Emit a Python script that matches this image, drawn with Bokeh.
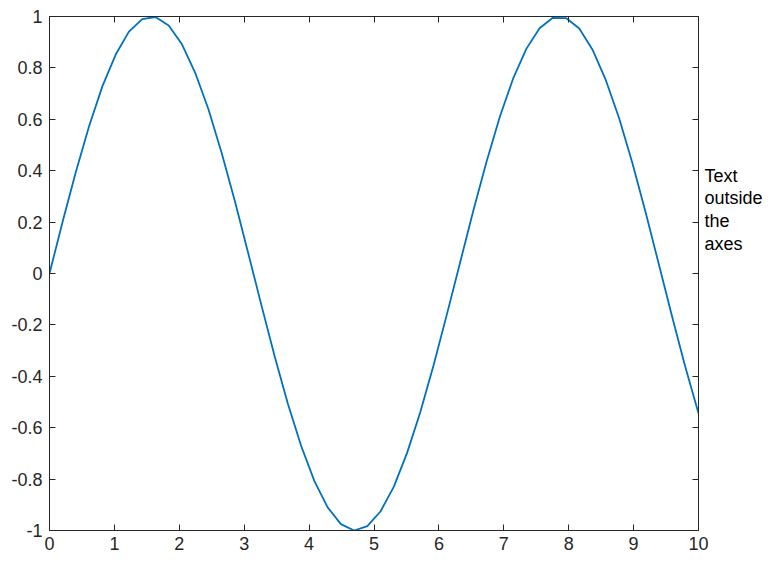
from bokeh.plotting import figure
from bokeh.models import Range1d, LinearAxis, FixedTicker
from bokeh.embed import file_html
from bokeh.resources import INLINE

x_vals = [0.000, 0.204, 0.408, 0.612, 0.816, 1.020, 1.224, 1.429, 1.633, 1.837,
          2.041, 2.245, 2.449, 2.653, 2.857, 3.061, 3.265, 3.469, 3.673, 3.878,
          4.082, 4.286, 4.490, 4.694, 4.898, 5.102, 5.306, 5.510, 5.714, 5.918,
          6.122, 6.327, 6.531, 6.735, 6.939, 7.143, 7.347, 7.551, 7.755, 7.959,
          8.163, 8.367, 8.571, 8.776, 8.980, 9.184, 9.388, 9.592, 9.796, 10.000]
y_vals = [0.000, 0.203, 0.397, 0.575, 0.729, 0.852, 0.941, 0.990, 0.998, 0.965,
          0.892, 0.781, 0.639, 0.469, 0.281, 0.080, -0.123, -0.322, -0.507, -0.671,
          -0.808, -0.910, -0.975, -1.000, -0.983, -0.925, -0.829, -0.698, -0.539, -0.357,
          -0.160, 0.043, 0.245, 0.436, 0.610, 0.758, 0.874, 0.954, 0.995, 0.994,
          0.953, 0.871, 0.753, 0.605, 0.431, 0.239, 0.037, -0.166, -0.363, -0.544]

x_ticks = [0, 1, 2, 3, 4, 5, 6, 7, 8, 9, 10]
x_tick_labels = ["0", "1", "2", "3", "4", "5", "6", "7", "8", "9", "10"]
y_ticks = [-1, -0.8, -0.6, -0.4, -0.2, 0, 0.2, 0.4, 0.6, 0.8, 1]
y_tick_labels = ["-1", "-0.8", "-0.6", "-0.4", "-0.2", "0", "0.2", "0.4", "0.6", "0.8", "1"]
note_lines = ["Text", "outside", "the", "axes"]

AX = "#262626"
FONT = "Liberation Sans"
FS = "18px"

p = figure(width=767, height=569, output_backend="svg", toolbar_location=None,
           x_range=Range1d(0, 10), y_range=Range1d(-1, 1),
           min_border_left=49, min_border_right=69, min_border_top=16, min_border_bottom=39)
p.background_fill_color = "white"
p.border_fill_color = "white"
p.outline_line_color = None
p.xgrid.visible = False
p.ygrid.visible = False

p.line(x_vals, y_vals, line_color="#0072BD", line_width=1.8)


def style(axis, ticks, labels, show_labels):
    axis.ticker = FixedTicker(ticks=ticks)
    axis.axis_line_color = AX
    axis.axis_line_width = 1
    axis.major_tick_line_color = AX
    axis.major_tick_in = 6
    axis.major_tick_out = 0
    axis.minor_tick_line_color = None
    axis.major_label_text_font = FONT
    axis.major_label_text_color = AX
    axis.major_label_text_font_size = FS
    if show_labels:
        axis.major_label_overrides = {t: l for t, l in zip(ticks, labels)}
    else:
        axis.major_label_overrides = {t: "" for t in ticks}
        axis.major_label_standoff = 0


style(p.xaxis[0], x_ticks, x_tick_labels, True)
p.xaxis[0].major_label_standoff = 6
style(p.yaxis[0], y_ticks, y_tick_labels, True)
p.yaxis[0].major_label_standoff = 7

top = LinearAxis()
style(top, x_ticks, x_tick_labels, False)
p.add_layout(top, "above")
right = LinearAxis()
style(right, y_ticks, y_tick_labels, False)
p.add_layout(right, "right")

# multi-line note just right of the axes box, drawn as an unlined right axis
note_pos = [0.381, 0.292, 0.203, 0.114]
note_axis = LinearAxis(ticker=FixedTicker(ticks=note_pos),
                       major_label_overrides={t: s for t, s in zip(note_pos, note_lines)})
note_axis.axis_line_color = None
note_axis.major_tick_line_color = None
note_axis.minor_tick_line_color = None
note_axis.major_tick_in = 0
note_axis.major_tick_out = 0
note_axis.major_label_standoff = 6
note_axis.major_label_text_font = FONT
note_axis.major_label_text_font_size = "18px"
note_axis.major_label_text_color = "black"
p.add_layout(note_axis, "right")

open("out.html", "w").write(file_html(p, INLINE))
